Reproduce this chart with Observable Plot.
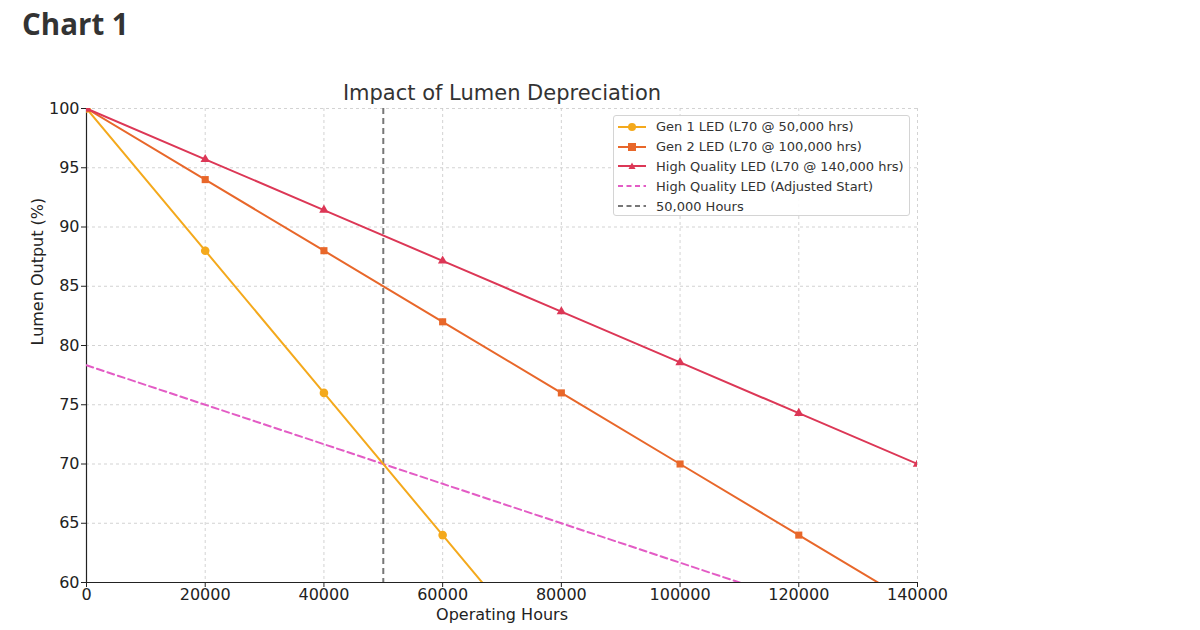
<!DOCTYPE html>
<html>
<head>
<meta charset="utf-8">
<script src="https://cdn.jsdelivr.net/npm/d3@7"></script>
<script src="https://cdn.jsdelivr.net/npm/@observablehq/plot@0.6"></script>
<style>
  body { margin: 0; background: #fff; width: 1200px; height: 630px; overflow: hidden; position: relative; }
  #heading { height: 56px; margin: 0; padding: 0 0 0 22px; box-sizing: border-box;
    font-family: "Open Sans", sans-serif; font-weight: 700; font-size: 29.5px; line-height: 48px; color: #333; }
  #legend { position: absolute; left: 613px; top: 115px; width: 297px; height: 101px; box-sizing: border-box;
    border: 1px solid #d4d4d4; border-radius: 3px; background: rgba(255,255,255,0.9);
    font-family: "DejaVu Sans", sans-serif; font-size: 13px; color: #333; padding-top: 1px; }
  .row { display: flex; align-items: center; height: 19.8px; }
  .row svg { margin-left: 4px; margin-right: 10px; }
</style>
</head>
<body>
<div id="heading">Chart 1</div>
<div id="chart"></div>
<div id="legend"></div>
<script>
// Operating hours at which each curve is sampled
const hours = [0, 20000, 40000, 60000, 80000, 100000, 120000, 140000];

// Lumen output (%) per series
const gen1 = [100, 88, 76, 64, 52, 40, 28, 16];
const gen2 = [100, 94, 88, 82, 76, 70, 64, 58];
const highQuality = [100, 95.71, 91.43, 87.14, 82.86, 78.57, 74.29, 70];
const adjusted = [78.33, 75, 71.67, 68.33, 65, 61.67, 58.33, 55];

const markerHours = [50000];

const xTicks = [0, 20000, 40000, 60000, 80000, 100000, 120000, 140000];
const yTicks = [60, 65, 70, 75, 80, 85, 90, 95, 100];

const seriesNames = [
  "Gen 1 LED (L70 @ 50,000 hrs)",
  "Gen 2 LED (L70 @ 100,000 hrs)",
  "High Quality LED (L70 @ 140,000 hrs)",
  "High Quality LED (Adjusted Start)",
  "50,000 Hours"
];
const colors = ["#f4a91c", "#e8672a", "#dc3756", "#e35cc5", "#777777"];
const symbols = ["circle", "square", "triangle", null, null];

const rows = (vals, s) => hours.map((h, i) => ({hours: h, value: vals[i], series: s}));
const gen1Rows = rows(gen1, 0);
const gen2Rows = rows(gen2, 1);
const hqRows = rows(highQuality, 2);
const adjRows = rows(adjusted, 3);

const font = "DejaVu Sans, sans-serif";

const chart = Plot.plot({
  width: 1200,
  height: 574,
  marginTop: 52,
  marginLeft: 86,
  marginRight: 283,
  marginBottom: 48,
  style: {fontFamily: font, fontSize: "16px", color: "#222", background: "#fff"},
  x: {domain: [0, 140000]},
  y: {domain: [60, 100]},
  marks: [
    Plot.gridX(xTicks, {stroke: "#c8c8c8", strokeOpacity: 1, strokeDasharray: "3,3", strokeWidth: 0.8}),
    Plot.gridY(yTicks, {stroke: "#c8c8c8", strokeOpacity: 1, strokeDasharray: "3,3", strokeWidth: 0.8}),
    Plot.axisX(xTicks, {tickSize: 5, tickPadding: 1, tickFormat: d => String(d), label: null, fontSize: 16, stroke: "#222"}),
    Plot.axisY(yTicks, {tickSize: 5, tickPadding: 2, label: null, fontSize: 16, stroke: "#222"}),
    Plot.ruleX([0], {stroke: "#222", strokeWidth: 1.2}),
    Plot.ruleY([60], {stroke: "#222", strokeWidth: 1.2}),
    Plot.ruleX(markerHours, {stroke: colors[4], strokeWidth: 2, strokeDasharray: "6,4"}),
    Plot.line(adjRows, {x: "hours", y: "value", stroke: colors[3], strokeWidth: 2, strokeDasharray: "7,4", clip: true}),
    Plot.line(gen1Rows, {x: "hours", y: "value", stroke: colors[0], strokeWidth: 2, clip: true}),
    Plot.dot(gen1Rows, {x: "hours", y: "value", fill: colors[0], symbol: "circle", r: 4.3, clip: true}),
    Plot.line(gen2Rows, {x: "hours", y: "value", stroke: colors[1], strokeWidth: 2, clip: true}),
    Plot.dot(gen2Rows, {x: "hours", y: "value", fill: colors[1], symbol: "square", r: 4, clip: true}),
    Plot.line(hqRows, {x: "hours", y: "value", stroke: colors[2], strokeWidth: 2, clip: true}),
    Plot.dot(hqRows, {x: "hours", y: "value", fill: colors[2], symbol: "triangle", r: 3.5, clip: true}),
    Plot.text(["Impact of Lumen Depreciation"], {frameAnchor: "top", dy: -15, fontSize: 21, fill: "#333", lineAnchor: "middle"}),
    Plot.text(["Operating Hours"], {frameAnchor: "bottom", dy: 32, fontSize: 16, fill: "#222", lineAnchor: "middle"}),
    Plot.text(["Lumen Output (%)"], {frameAnchor: "left", dx: -49, rotate: -90, fontSize: 16, fill: "#222", lineAnchor: "middle"})
  ]
});
document.getElementById("chart").appendChild(chart);

// Legend box drawn inside the plot area
const legend = d3.select("#legend");
seriesNames.forEach((name, i) => {
  const row = legend.append("div").attr("class", "row");
  const sw = row.append("svg").attr("width", 28).attr("height", 12);
  const dashed = i >= 3;
  sw.append("line").attr("x1", 0).attr("x2", 28).attr("y1", 6).attr("y2", 6)
    .attr("stroke", colors[i]).attr("stroke-width", 2)
    .attr("stroke-dasharray", dashed ? "5,3.5" : null);
  const sym = symbols[i];
  if (sym === "circle") sw.append("circle").attr("cx", 14).attr("cy", 6).attr("r", 4).attr("fill", colors[i]);
  if (sym === "square") sw.append("rect").attr("x", 10).attr("y", 2).attr("width", 8).attr("height", 8).attr("fill", colors[i]);
  if (sym === "triangle") sw.append("path").attr("d", "M14,2.5L17.5,9L10.5,9Z").attr("fill", colors[i]);
  row.append("span").text(name);
});
</script>
</body>
</html>
